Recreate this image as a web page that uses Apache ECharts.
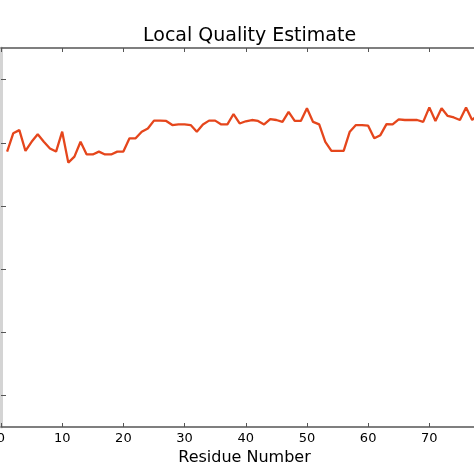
<!DOCTYPE html>
<html>
<head>
<meta charset="utf-8">
<script src="https://cdn.jsdelivr.net/npm/echarts@6/dist/echarts.min.js"></script>
<style>
  html, body { margin: 0; padding: 0; background: #fff; }
  #main { width: 474px; height: 474px; }
</style>
</head>
<body>
<div id="main"></div>
<script>
// residue numbers and their local quality estimate
var residues = [];
for (var r = 1; r <= 78; r++) residues.push(r);
var quality = [
  0.772, 0.830, 0.840, 0.774, 0.803, 0.827, 0.803, 0.782, 0.772, 0.835,
  0.737, 0.756, 0.803, 0.763, 0.763, 0.772, 0.763, 0.763, 0.772, 0.772,
  0.814, 0.814, 0.835, 0.845, 0.870, 0.870, 0.869, 0.856, 0.858, 0.858,
  0.856, 0.835, 0.858, 0.870, 0.870, 0.858, 0.858, 0.891, 0.861, 0.868,
  0.872, 0.869, 0.858, 0.875, 0.872, 0.866, 0.898, 0.869, 0.869, 0.909,
  0.866, 0.858, 0.803, 0.774, 0.774, 0.774, 0.835, 0.856, 0.856, 0.854,
  0.814, 0.824, 0.859, 0.858, 0.874, 0.872, 0.872, 0.872, 0.866, 0.912,
  0.869, 0.909, 0.885, 0.880, 0.872, 0.912, 0.872, 0.890
];
var xTicks = [0, 10, 20, 30, 40, 50, 60, 70];
var yTicks = [0.0, 0.2, 0.4, 0.6, 0.8, 1.0];

var myChart = echarts.init(document.getElementById('main'));

var font = 'DejaVu Sans';
var option = {
    animation: false,
    title: {
        text: 'Local Quality Estimate',
        left: 138,
        top: 22,
        textStyle: { fontFamily: font, fontSize: 19, fontWeight: 'normal', color: '#000' }
    },
    grid: { left: 1, right: 0, top: 48, bottom: 47, outerBoundsMode: 'none', containLabel: false },
    xAxis: [{
        type: 'value',
        min: 0,
        max: 77.3,
        interval: 10,
        name: 'Residue Number',
        nameLocation: 'middle',
        nameGap: 23,
        nameTextStyle: { fontFamily: font, fontSize: 16, color: '#000', padding: [0, 0, 0, 14] },
        axisLine: { onZero: false, lineStyle: { color: '#555', width: 1.5 } },
        axisTick: { inside: true, length: 4, customValues: xTicks, lineStyle: { color: '#555' } },
        axisLabel: { customValues: xTicks, fontFamily: font, fontSize: 13, color: '#000', margin: 5 },
        splitLine: { show: false }
    }, {
        type: 'value',
        position: 'top',
        min: 0,
        max: 77.3,
        interval: 10,
        axisLine: { onZero: false, lineStyle: { color: '#555', width: 1.5 } },
        axisTick: { inside: true, length: 4, customValues: xTicks, lineStyle: { color: '#555' } },
        axisLabel: { show: false },
        splitLine: { show: false }
    }],
    yAxis: {
        type: 'value',
        min: -0.1,
        max: 1.1,
        axisLine: { show: true, onZero: false, lineStyle: { color: '#d4d4d4', width: 3 } },
        axisTick: { inside: true, length: 5, customValues: yTicks, lineStyle: { color: '#555' } },
        axisLabel: { show: false },
        splitLine: { show: false }
    },
    series: [{
        type: 'line',
        data: residues.map(function (r, i) { return [r, quality[i]]; }),
        symbol: 'none',
        lineStyle: { color: '#e5461c', width: 2.3 }
    }]
};

myChart.setOption(option);
</script>
</body>
</html>
